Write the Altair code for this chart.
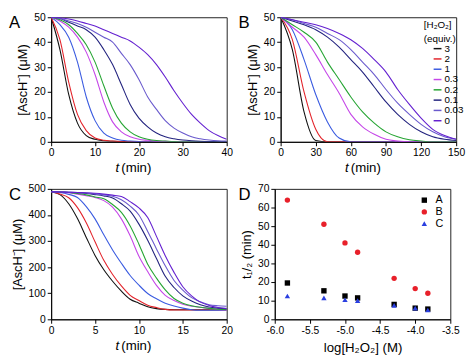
import altair as alt
import pandas as pd

FONT = "Liberation Sans"

# ---- series (H2O2 equivalents) and colours ----
series = ["3", "2", "1", "0.3", "0.2", "0.1", "0.03", "0"]
palette = ["#111111", "#e3242b", "#3a5be0", "#c546e8", "#26a533", "#23237f", "#6a5acd", "#6420d0"]

# ---- Panel A: [AscH-] (uM) vs t (min) ----
tA = [0, 2, 4, 6, 8, 10, 12, 14, 16, 18, 20, 22, 24, 26, 28, 30, 32, 34, 36, 38, 40]
A_3 = [50, 37, 19, 7.5, 2.5, 1, 0.4, 0.2, 0.1, 0, 0, 0, 0, 0, 0, 0, 0, 0, 0, 0, 0]
A_2 = [50, 41, 24, 11, 4.5, 1.5, 0.6, 0.3, 0.1, 0, 0, 0, 0, 0, 0, 0, 0, 0, 0, 0, 0]
A_1 = [50, 47, 42, 32, 18, 8.5, 3.5, 1.5, 0.6, 0.3, 0.1, 0, 0, 0, 0, 0, 0, 0, 0, 0, 0]
A_03 = [50, 48.5, 46, 42, 36, 27, 16, 8, 4, 2, 1, 0.6, 0.3, 0.2, 0.1, 0, 0, 0, 0, 0, 0]
A_02 = [50, 49, 47, 43.5, 39, 32, 22.5, 13.5, 7.5, 4, 2, 1, 0.5, 0.3, 0.1, 0, 0, 0, 0, 0, 0]
A_01 = [50, 49.5, 48, 46.5, 45, 42, 37, 31, 23, 15, 9.5, 6, 3.5, 2, 1.2, 0.7, 0.4, 0.2, 0.1, 0, 0]
A_003 = [50, 49.5, 48.5, 47.5, 46, 44, 42, 40, 35.5, 31, 25, 18, 13, 8.5, 5.5, 3.5, 2, 1.2, 0.7, 0.4, 0.3]
A_0 = [50, 49.8, 49.3, 48.5, 47.5, 46.5, 45, 43.5, 42, 40.5, 38, 35, 31, 26, 20.5, 15.5, 11, 7.5, 4.5, 2.5, 1]

# ---- Panel B ----
tB = [0, 10, 20, 30, 40, 50, 60, 70, 80, 90, 100, 110, 120, 130, 140, 150]
B_3 = [50, 37, 12, 0.5, 0, 0, 0, 0, 0, 0, 0, 0, 0, 0, 0, 0]
B_2 = [50, 41, 20, 5, 0, 0, 0, 0, 0, 0, 0, 0, 0, 0, 0, 0]
B_1 = [50, 45, 33, 19, 8, 1.5, 0, 0, 0, 0, 0, 0, 0, 0, 0, 0]
B_03 = [50, 46, 42, 35, 27, 19.5, 11, 6, 3, 1, 0.3, 0, 0, 0, 0, 0]
B_02 = [50, 47, 44, 40, 32, 25, 18, 12, 7.5, 4, 2, 0.8, 0.3, 0, 0, 0]
B_01 = [50, 48.5, 47, 45, 42, 38, 33, 28, 22, 16, 11, 7, 4, 2, 1, 0.5]
B_003 = [50, 49, 47.5, 46, 43.5, 41, 37, 32, 27, 21, 15.5, 11, 7, 4, 2, 1]
B_0 = [50, 49, 48, 47, 45.5, 43.5, 41, 37.5, 33, 28, 21, 15, 9.5, 5, 2.5, 1]

# ---- Panel C ----
tC = [0, 1, 2, 3, 4, 5, 6, 7, 8, 9, 10, 11, 12, 13, 14, 15, 16, 17, 18, 19, 20]
C_3 = [489, 478, 443, 386, 314, 245, 190, 146, 108, 77, 62, 48, 41, 38, 37, 37, 37, 37, 37, 37, 37]
C_2 = [489, 480, 466, 428, 370, 297, 226, 172, 128, 92, 72, 54, 45, 38, 36, 36, 36, 36, 36, 36, 36]
C_1 = [489, 486, 479, 467, 432, 385, 324, 266, 215, 168, 131, 99, 79, 62, 51, 43, 37, 35, 35, 35, 35]
C_03 = [489, 487, 485, 480, 474, 467, 455, 430, 385, 320, 242, 183, 130, 92, 72, 58, 50, 46, 42, 38, 35]
C_02 = [489, 488, 486, 482, 477, 469, 462, 440, 410, 358, 288, 211, 158, 113, 80, 62, 52, 46, 42, 39, 37]
C_01 = [489, 488, 487, 485, 482, 478, 473, 465, 443, 415, 365, 303, 233, 165, 122, 90, 70, 56, 47, 43, 41]
C_003 = [489, 488, 487, 486, 484, 481, 477, 472, 458, 434, 400, 337, 270, 205, 149, 112, 83, 67, 56, 52, 50]
C_0 = [489, 488, 487, 486, 485, 483, 480, 476, 471, 451, 427, 390, 318, 244, 180, 125, 90, 66, 53, 45, 41]

# ---- Panel D: t1/2 vs log[H2O2] ----
xD = [-5.82, -5.3, -5.0, -4.82, -4.3, -4.0, -3.82]
D_A = [19.5, 15.3, 12.5, 11.5, 8, 6, 5.5]
D_B = [64, 51, 41, 36, 22, 16.5, 14]
D_C = [12.5, 11.5, 10.5, 10, 7.5, 6, 5]
groupsD = ["A", "B", "C"]
colorsD = ["#000000", "#e8202a", "#2a3fe0"]
shapesD = ["square", "circle", "triangle-up"]

W = 179
H1 = 127
H2 = 133


def long_df(t, cols):
    rows = []
    for k, (s, vals) in enumerate(zip(series, cols)):
        for tt, v in zip(t, vals):
            rows.append({"t": tt, "v": v, "s": s, "k": k})
    return pd.DataFrame(rows)


def text_layer(txt, x, y, size, style="normal", align="left", angle=0):
    return alt.Chart(pd.DataFrame({"txt": [txt]})).mark_text(
        align=align, baseline="top", fontSize=size, font=FONT, fontStyle=style,
        color="black", angle=angle
    ).encode(x=alt.value(x), y=alt.value(y), text="txt:N")


def curve_panel(df, xmax, xstep, ymax, ystep, letter, h, legend):
    xt = list(range(0, xmax + 1, xstep))
    yt = list(range(0, ymax + 1, ystep))
    if legend:
        leg = alt.Legend(title=["[H\u2082O\u2082]", "(equiv.)"], orient="none",
                         legendX=146, legendY=3,
                         symbolType="stroke", symbolStrokeWidth=1.5, symbolSize=64,
                         symbolOffset=9,
                         labelFontSize=10, titleFontSize=10, titleFontWeight="normal",
                         rowPadding=0.5, titleLineHeight=14, titlePadding=0, padding=0,
                         labelOffset=2)
    else:
        leg = None
    lines = alt.Chart(df).mark_line(strokeWidth=1.1, interpolate="monotone", clip=True).encode(
        x=alt.X("t:Q", scale=alt.Scale(domain=[0, xmax], nice=False, zero=False),
                axis=alt.Axis(values=xt, title=None)),
        y=alt.Y("v:Q", scale=alt.Scale(domain=[0, ymax], nice=False),
                axis=alt.Axis(values=yt, title="[AscH\u207b] (\u03bcM)")),
        color=alt.Color("s:N", scale=alt.Scale(domain=series, range=palette), legend=leg),
        detail="k:N",
    )
    return alt.layer(
        lines,
        text_layer(letter, -43, -2, 17),
        text_layer("t", W / 2 - 24, h + 20, 13.5, style="italic"),
        text_layer("(min)", W / 2 - 18, h + 20, 13.5),
    ).properties(width=W, height=h)


dfA = long_df(tA, [A_3, A_2, A_1, A_03, A_02, A_01, A_003, A_0])
dfB = long_df(tB, [B_3, B_2, B_1, B_03, B_02, B_01, B_003, B_0])
dfC = long_df(tC, [C_3, C_2, C_1, C_03, C_02, C_01, C_003, C_0])

rowsD = []
for g, vals in zip(groupsD, [D_A, D_B, D_C]):
    for x, v in zip(xD, vals):
        rowsD.append({"x": x, "v": v, "g": g})
dfD = pd.DataFrame(rowsD)

panelA = curve_panel(dfA, 40, 10, 50, 10, "A", H1, False)
panelB = curve_panel(dfB, 150, 30, 50, 10, "B", H1, True)
panelC = curve_panel(dfC, 20, 5, 500, 100, "C", H2, False)

legD = alt.Legend(title=None, orient="none", legendX=147, legendY=6, labelFontSize=11, padding=0,
                  rowPadding=0, symbolSize=30, labelOffset=6)
ptsD = alt.Chart(dfD).mark_point(filled=True, size=30, opacity=1).encode(
    x=alt.X("x:Q", scale=alt.Scale(domain=[-6, -3.5], nice=False, zero=False),
            axis=alt.Axis(values=[-6, -5.5, -5, -4.5, -4, -3.5], format=".1f",
                          labelExpr="replace(datum.label, '\u2212', '-')",
                          title="log[H\u2082O\u2082] (M)", titleFontSize=13.5, titlePadding=5)),
    y=alt.Y("v:Q", scale=alt.Scale(domain=[0, 70], nice=False),
            axis=alt.Axis(values=list(range(0, 71, 10)), title="t\u2081/\u2082 (min)")),
    color=alt.Color("g:N", scale=alt.Scale(domain=groupsD, range=colorsD), legend=legD),
    shape=alt.Shape("g:N", scale=alt.Scale(domain=groupsD, range=shapesD), legend=legD),
)
panelD = alt.layer(ptsD, text_layer("D", -37, -2, 17)).properties(width=W, height=H2)

row1 = alt.hconcat(panelA, panelB, spacing=4).resolve_scale(color="independent")
row2 = alt.hconcat(panelC, panelD, spacing=4).resolve_scale(color="independent", shape="independent")

chart = alt.vconcat(row1, row2, spacing=8).resolve_scale(
    color="independent", shape="independent"
).properties(
    padding={"left": 0, "top": 0, "right": 0, "bottom": 0}
).configure_view(
    stroke="#222222", strokeWidth=1
).configure_axis(
    labelFont=FONT, titleFont=FONT, labelFontSize=10.5, titleFontSize=13,
    titleFontWeight="normal", labelColor="black", titleColor="black",
    domainColor="black", tickColor="black", tickSize=4, grid=False,
    labelPadding=2, titlePadding=4, labelFlush=False, labelOverlap=False
).configure_legend(
    labelFont=FONT, titleFont=FONT, labelColor="black", titleColor="black"
)

chart.save("out.html", embed_options={"renderer": "svg", "actions": False})
